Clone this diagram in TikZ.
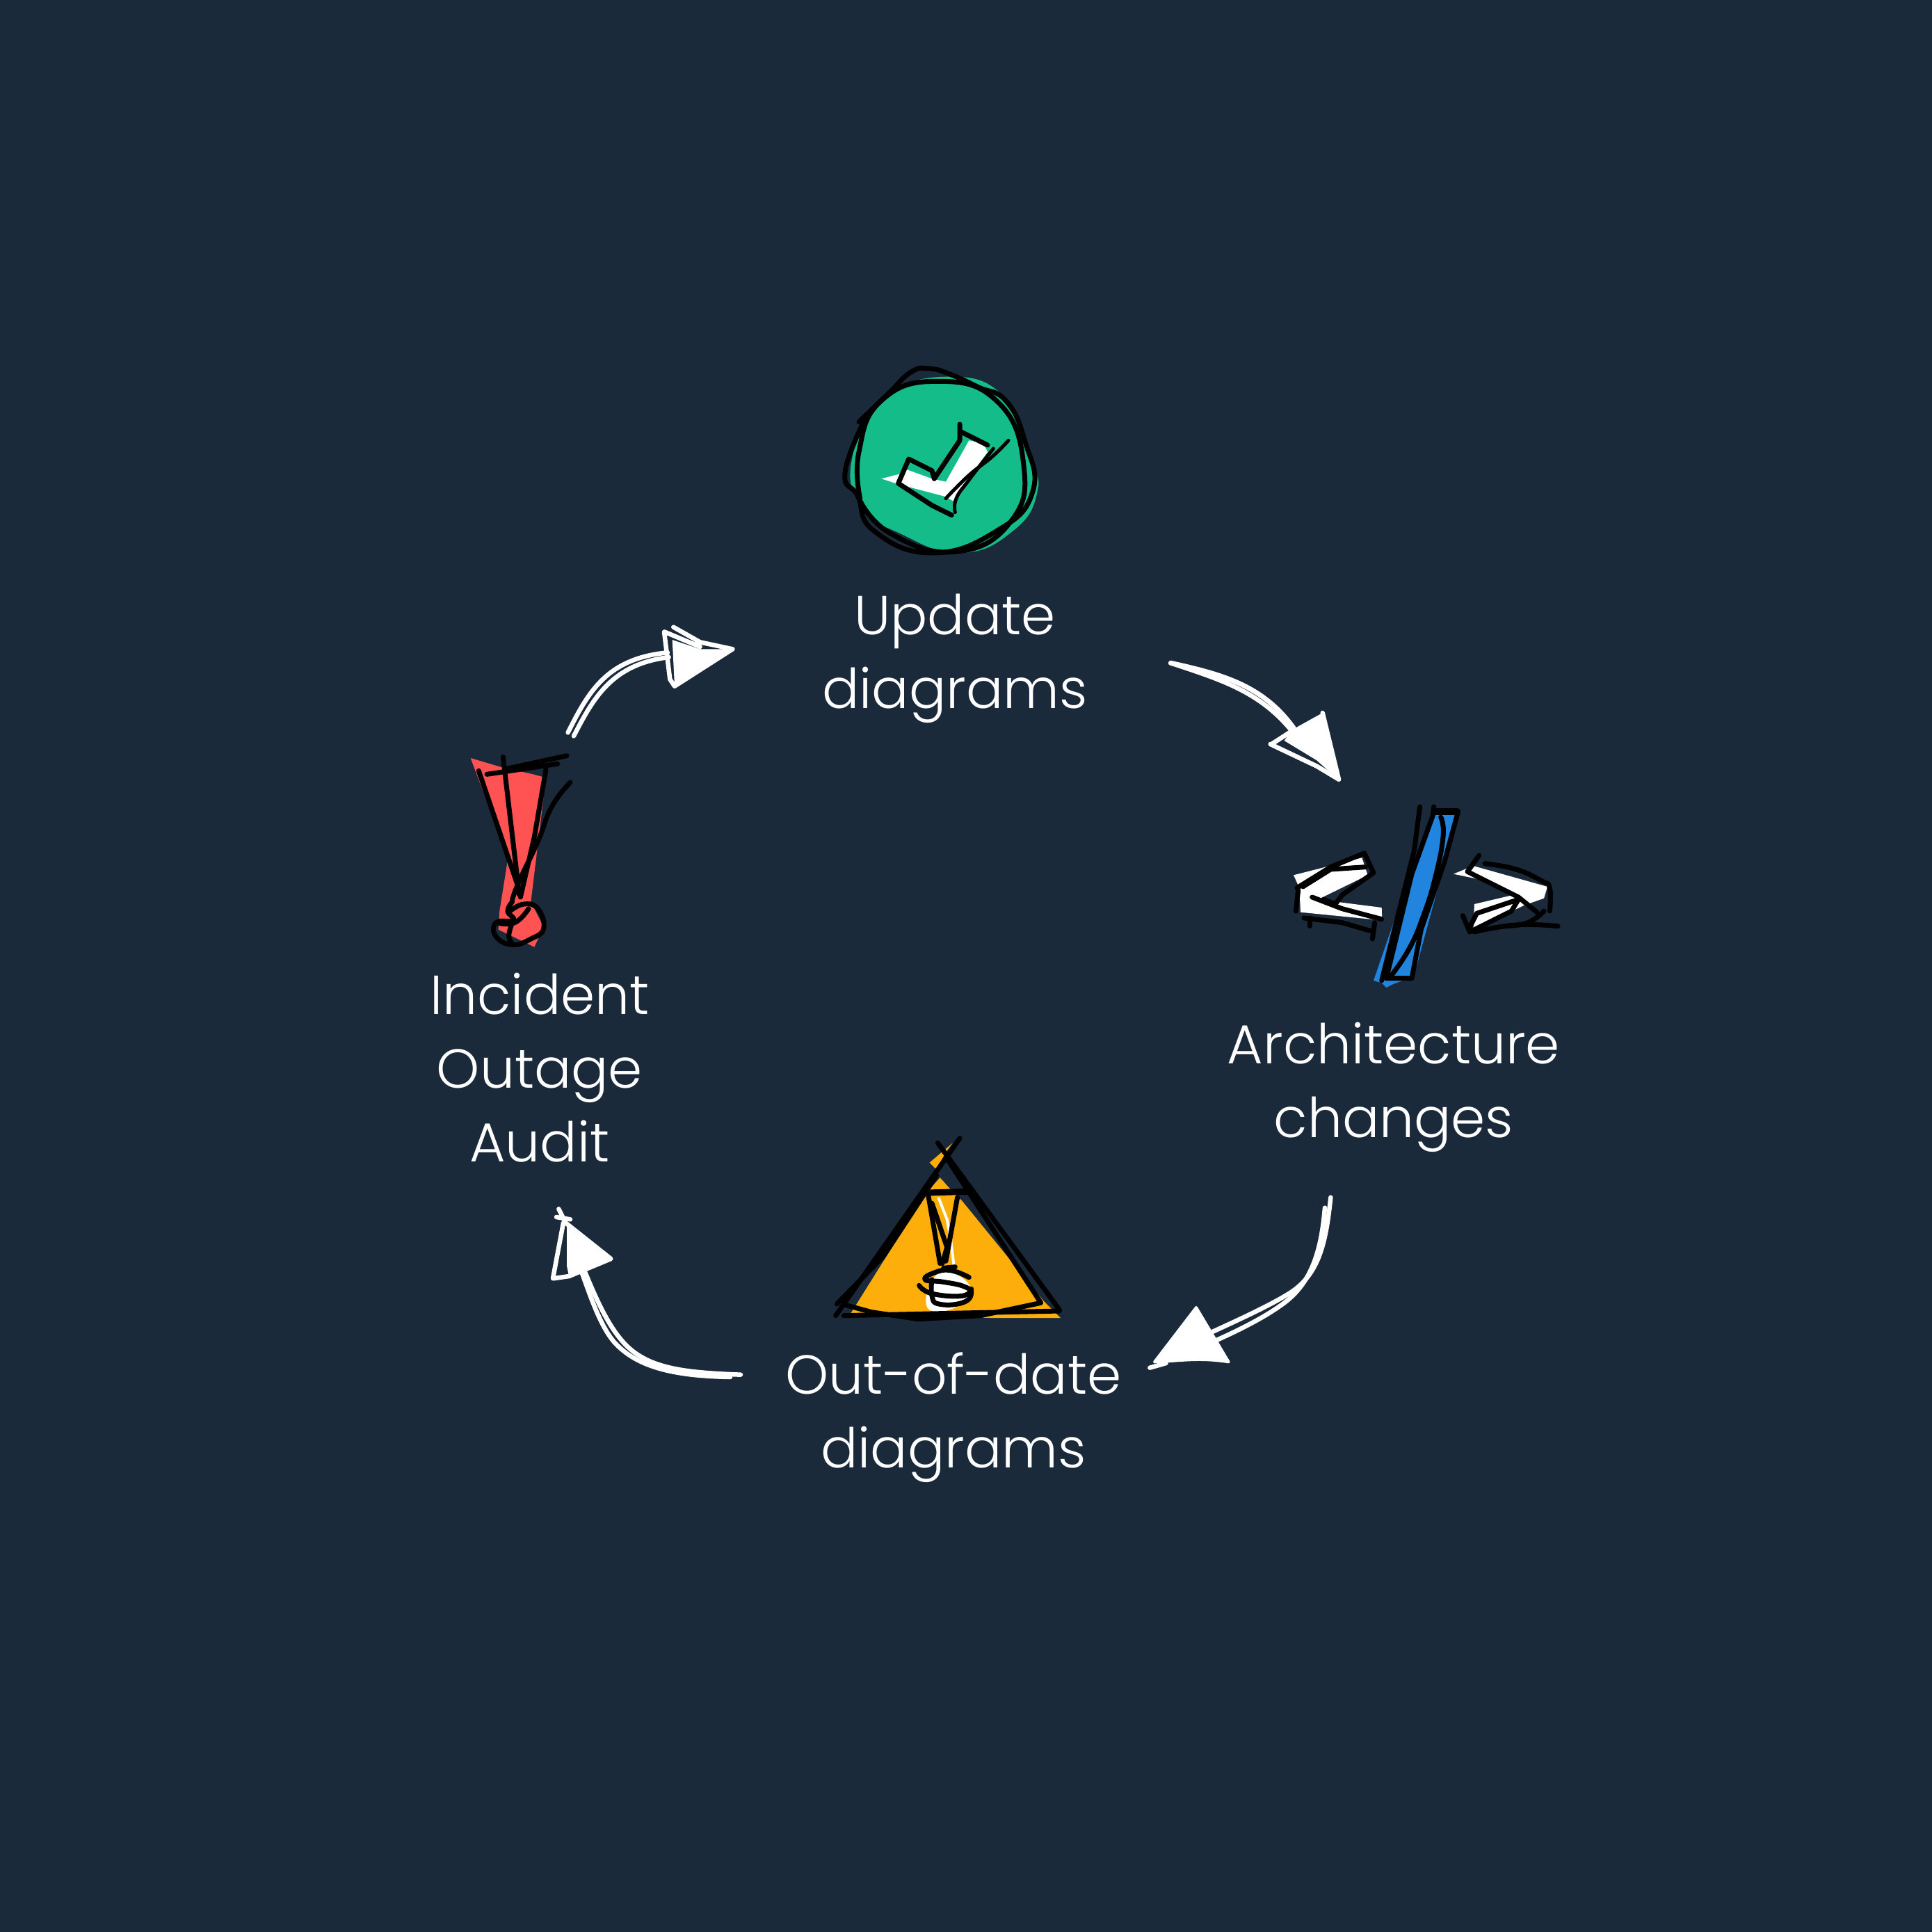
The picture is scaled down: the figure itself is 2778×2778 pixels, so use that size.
\documentclass[tikz,border=0pt]{standalone}
\usepackage{fontspec}
\setmainfont{Poppins Light}
\definecolor{bgc}{HTML}{1B2A3A}
\definecolor{greenc}{HTML}{14BC8A}
\definecolor{bluec}{HTML}{2185E0}
\definecolor{orangec}{HTML}{FDAE0B}
\definecolor{redc}{HTML}{FF5252}
\tikzset{
 x=1pt,y=-1pt,
 ink/.style={draw=black,line width=7pt,line cap=round,line join=round},
 inkthin/.style={draw=black,line width=5pt,line cap=round,line join=round},
 strand/.style={draw=white,line width=6.5pt,line cap=round,line join=round},
 headfill/.style={fill=white,draw=white,line width=4pt,line join=round},
 zoomed/.style={shift={#1},scale=1/3},
 label/.style={text=white,align=center,font=\fontsize{79}{106}\selectfont,inner sep=0pt},
}
\begin{document}
\begin{tikzpicture}
\useasboundingbox (0,0) rectangle (2778,2778);
\fill[bgc] (0,0) rectangle (2778,2778);

% labels
\node[label] (update) at (1373,947) {Update\\diagrams};
\node[label] (arch) at (2004,1563) {Architecture\\changes};
\node[label] (outdated) at (1371,2038) {Out-of-date\\diagrams};
\node[label] (incident) at (776,1535) {Incident\\Outage\\Audit};

% check icon
\begin{scope}[zoomed={(1180,500)}]
\fill[greenc] plot[smooth cycle,tension=.8] coordinates {(135,480)(270,220)(560,125)(800,220)(900,470)(935,620)(830,790)(600,885)(340,800)(180,690)};
\fill[white] (262,565)--(340,545)--(370,525)--(480,565)--(540,578)--(640,400)--(700,410)--(720,450)--(640,560)--(580,665)--(530,640)--(340,590)--cycle;
\draw[ink] plot[smooth,tension=.8] coordinates {(165,320)(290,200)(390,105)(470,90)(560,115)(680,170)(800,230)(880,400)(915,620)(760,790)(480,885)(230,790)(160,640)(105,540)(190,310)};
\draw[ink] plot[smooth,tension=.8] coordinates {(170,650)(165,450)(260,230)(500,145)(760,230)(875,500)(820,750)(580,880)(300,800)(165,650)};
\draw[ink] (600,330)--(600,400)--(490,565)--(480,530)--(380,480)--(335,585)--(480,680)--(565,722);
\draw[ink] (610,365)--(720,420);
\draw[inkthin] plot[smooth,tension=.8] coordinates {(810,400)(740,470)(640,550)(540,650)};
\draw[inkthin] plot[smooth,tension=.8] coordinates {(745,435)(640,570)(585,650)(580,710)};
\end{scope}

% code icon
\begin{scope}[zoomed={(1830,1130)}]
\fill[bluec] (435,840)--(690,100)--(805,100)--(620,780)--(600,825)--(520,855)--(490,870)--(470,850)--cycle;
\fill[white] (90,385)--(385,310)--(410,385)--(195,490)--(470,525)--(472,580)--(120,545)--(115,440)--cycle;
\fill[white] (780,380)--(865,345)--(1185,435)--(1170,485)--(1085,515)--(865,620)--(870,510)--(1040,470)--(900,405)--cycle;
\draw[ink] (105,440)--(250,350)--(395,290)--(435,375)--(300,470)--(270,510);
\draw[ink] (110,450)--(100,540);
\draw[ink] (130,435)--(250,360)--(400,350);
\draw[ink] (170,480)--(300,530)--(470,575);
\draw[ink] (135,570)--(300,590)--(420,625);
\draw[ink] (160,570)--(160,605);
\draw[ink] (440,590)--(430,660);
\draw[ink] (220,490)--(270,510);
\draw[ink] (635,90)--(610,280)--(560,480)--(490,760)--(470,840);
\draw[ink] (695,90)--(690,130)--(600,380)--(490,830);
\draw[ink,line width=10pt] (705,110)--(795,110);
\draw[ink] (800,110)--(740,330)--(640,620)--(600,830)--(490,830);
\draw[ink] plot[smooth,tension=.8] coordinates {(725,135)(735,220)(700,400)(650,560)(590,700)(510,820)};
\draw[ink] (890,300)--(840,370)--(1060,480)--(1140,545);
\draw[ink] plot[smooth,tension=.8] coordinates {(915,335)(1050,360)(1160,410)(1195,440)(1195,540)};
\draw[ink] (820,560)--(850,630)--(1030,540)--(1060,490)--(880,550)--(850,610);
\draw[ink] plot[smooth,tension=.8] coordinates {(870,630)(1050,600)(1230,605)};
\draw[ink] plot[smooth,tension=.8] coordinates {(1170,540)(1100,590)(1000,605)};
\end{scope}

% warning icon
\begin{scope}[zoomed={(1170,1620)}]
\fill[orangec] (545,220)--(590,270)--(640,320)--(990,750)--(1065,825)--(760,825)--(160,805)--(370,470)--(500,270)--cycle;
\fill[orangec] (500,155)--(600,70)--(570,110)--(530,185)--cycle;
\fill[white] plot[smooth cycle,tension=.8] coordinates {(490,780)(520,650)(600,630)(680,710)(600,785)};
\draw[white,line width=4pt,line cap=round] (540,310)--(575,400)--(590,480)--(605,600);
\draw[ink] (630,50)--(95,815);
\draw[ink] (535,70)--(1060,790);
\draw[ink] (100,765)--(300,560)--(530,210);
\draw[ink] (570,130)--(980,760)--(720,815)--(450,830)--(250,800)--(140,770);
\draw[ink] (130,815)--(1060,795);
\draw[ink,line width=9pt] (490,285)--(665,280);
\draw[ink] (495,300)--(545,590);
\draw[ink] (510,330)--(575,520)--(555,590);
\draw[ink] (620,305)--(570,580);
\draw[ink] (560,610)--(610,605);
\draw[ink] plot[smooth,tension=.8] coordinates {(670,650)(590,620)(520,630)(480,660)(560,670)(650,690)(680,720)(640,760)(540,765)(510,730)(510,660)};
\draw[ink] plot[smooth,tension=.8] coordinates {(455,685)(510,720)(640,730)(680,700)};
\end{scope}

% exclamation icon
\begin{scope}[zoomed={(650,1070)}]
\fill[redc] (80,60)--(215,100)--(350,130)--(405,145)--(340,680)--(395,790)--(355,875)--(200,800)--(205,720)--(240,500)--(170,300)--cycle;
\draw[ink] (220,55)--(290,650);
\draw[ink] (115,115)--(280,600);
\draw[ink] (240,105)--(495,50);
\draw[ink] (150,130)--(455,85);
\draw[ink] (405,110)--(355,400)--(295,660);
\draw[ink] plot[smooth,tension=.8] coordinates {(510,165)(430,270)(370,420)(290,590)(260,670)};
\draw[ink] plot[smooth,tension=.8] coordinates {(260,680)(240,720)(265,760)(190,770)(190,830)(260,865)(340,840)(395,795)(370,710)(310,690)(250,720)};
\draw[ink] plot[smooth,tension=.8] coordinates {(190,770)(270,770)(330,710)};
\draw[ink] plot[smooth,tension=.8] coordinates {(260,770)(245,830)(265,865)};
\end{scope}

% connectors
\begin{scope}[zoomed={(1660,930)}]
\coordinate (a1s) at (70,70);
\coordinate (a1t) at (795,572);
\draw[strand,line width=7pt] (a1s) .. controls (300,120) and (470,170) .. (600,350);
\draw[strand] (a1s) .. controls (280,140) and (450,190) .. (590,360);
\fill[white] (590,360)--(725,285)--(790,570)--(700,490)--(560,405)--cycle;
\draw[strand] (500,420)--(700,515)--(a1t);
\draw[strand] (505,420)--(590,365);
\draw[strand] (725,285)--(a1t);
\end{scope}

\begin{scope}[zoomed={(1640,1700)}]
\coordinate (a2s) at (820,65);
\coordinate (a2t) at (40,800);
\draw[strand] (a2s) .. controls (800,260) and (770,400) .. (640,480) .. controls (560,530) and (430,590) .. (310,645);
\draw[strand] (795,110) .. controls (780,290) and (740,430) .. (620,520) .. controls (540,580) and (430,635) .. (330,680);
\fill[headfill] (240,540)--(380,775)..controls (250,755) and (180,770)..(60,775)--cycle;
\draw[strand] (110,780)--(a2t);
\end{scope}

\begin{scope}[zoomed={(770,1720)}]
\coordinate (a3s) at (885,770);
\coordinate (a3t) at (100,55);
\draw[strand] (a3s) .. controls (620,760) and (470,740) .. (370,620) .. controls (310,550) and (260,440) .. (215,330);
\draw[strand] (840,780) .. controls (600,775) and (440,740) .. (340,630) .. controls (280,560) and (240,440) .. (200,330);
\fill[white] (135,120)--(320,270)--(145,350)--(135,300)--cycle;
\draw[strand] (a3t)--(130,115)--(325,270)--(145,345);
\draw[strand] (120,115)--(75,355)--(145,345);
\draw[strand] (90,90)--(150,100);
\end{scope}

\begin{scope}[zoomed={(780,880)}]
\coordinate (a4s) at (110,520);
\coordinate (a4t) at (820,160);
\draw[strand] (a4s) .. controls (200,340) and (280,200) .. (540,175);
\draw[strand] (135,535) .. controls (220,370) and (300,225) .. (545,195);
\fill[white] (560,120)--(680,160)--(a4t)--(570,320)--cycle;
\draw[strand] (565,65)--(680,130)--(a4t)--(570,320)--(550,290)--(525,85)--(680,150);
\end{scope}
\end{tikzpicture}
\end{document}
